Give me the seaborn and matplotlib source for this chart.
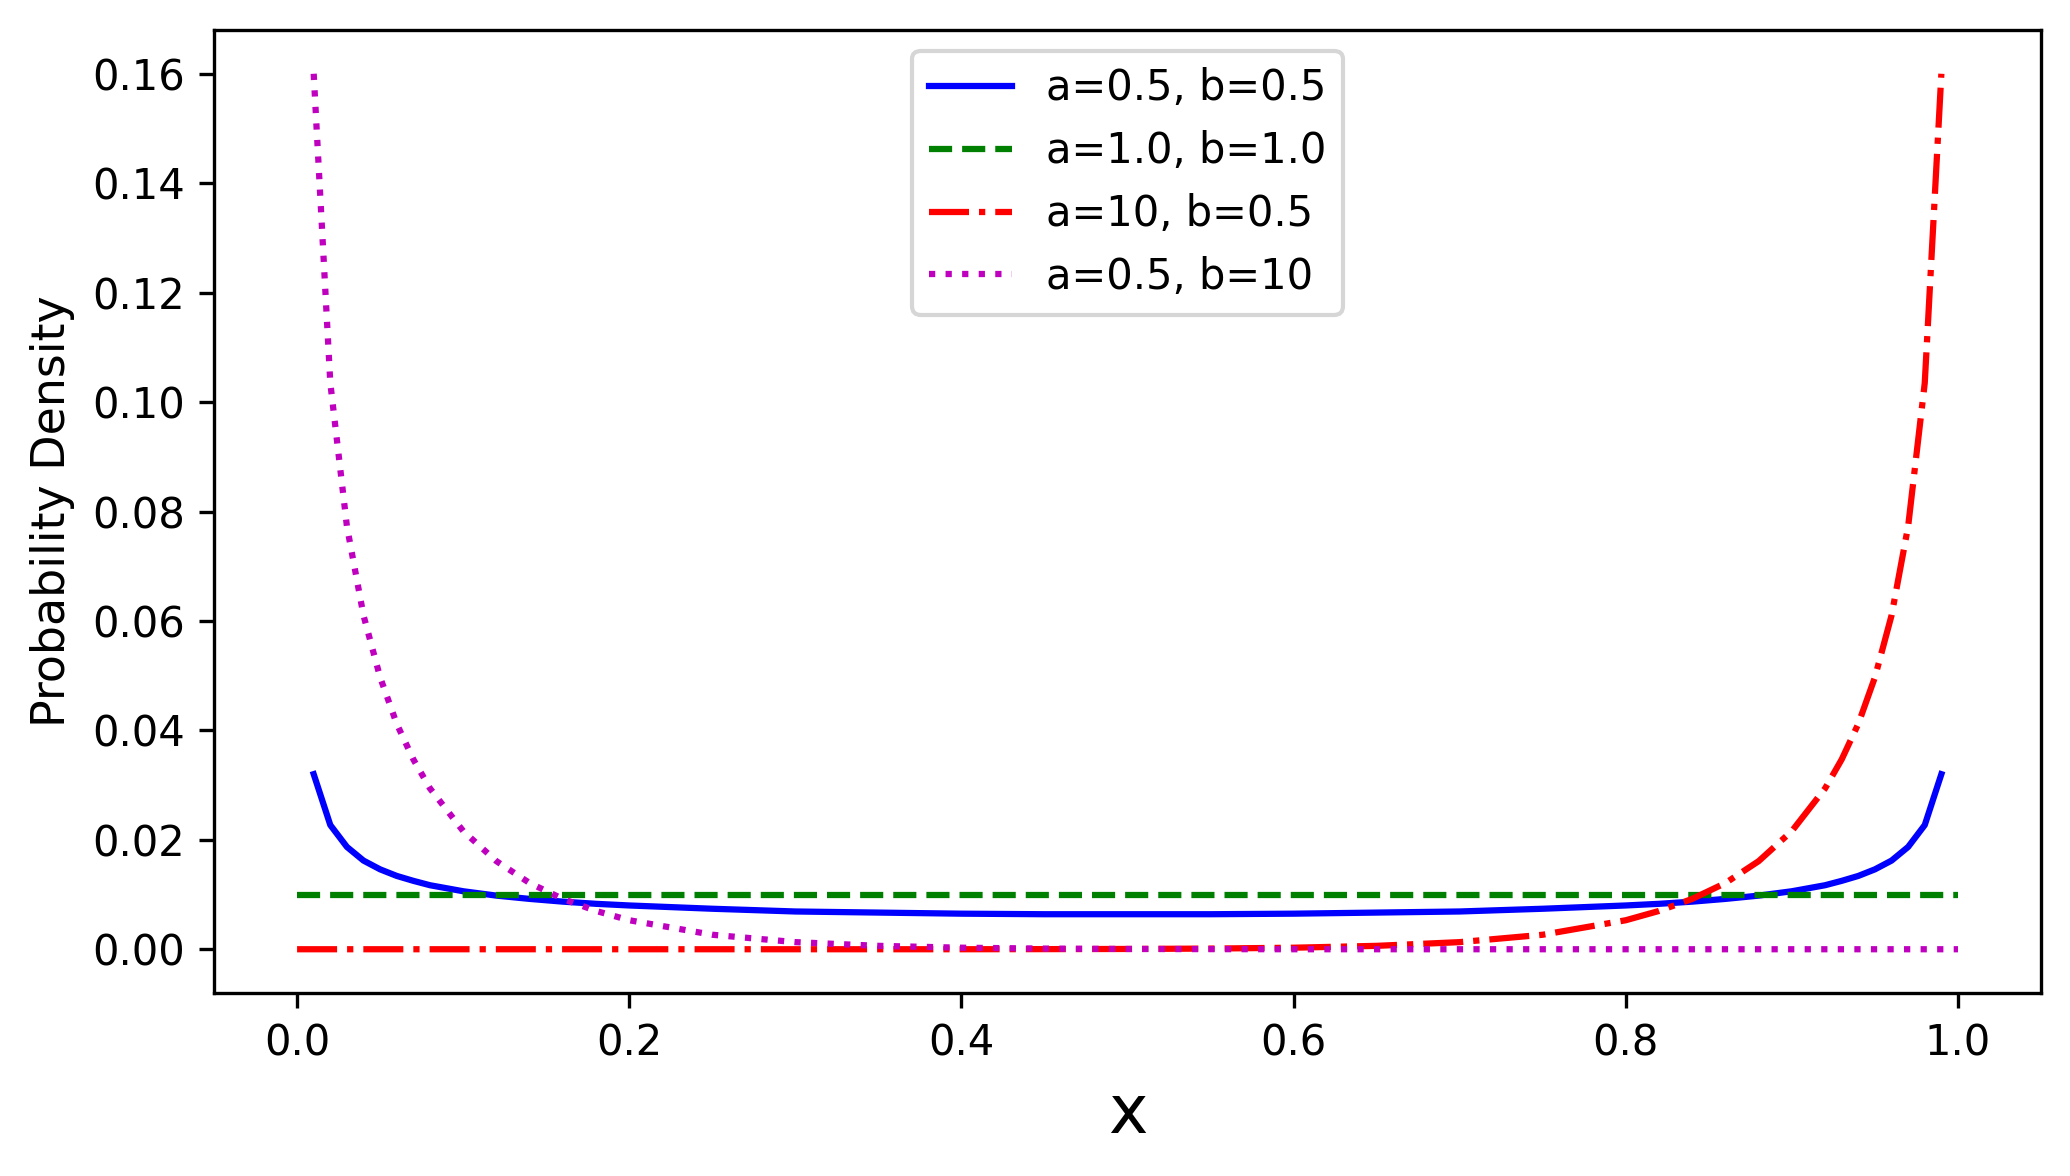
import pandas as pd
import seaborn as sns
import matplotlib
matplotlib.use('Agg')
import matplotlib.pyplot as plt

# x grid (denser near the edges where the curves bend)
x_vals = [0.00, 0.01, 0.02, 0.03, 0.04, 0.05, 0.06, 0.07, 0.08, 0.10,
          0.12, 0.14, 0.16, 0.18, 0.20, 0.25, 0.30, 0.35, 0.40, 0.45,
          0.50, 0.55, 0.60, 0.65, 0.70, 0.75, 0.80, 0.82, 0.84, 0.86,
          0.88, 0.90, 0.92, 0.93, 0.94, 0.95, 0.96, 0.97, 0.98, 0.99, 1.00]

nan = float('nan')

# a=0.5, b=0.5
dens_05_05 = [nan, 0.0320, 0.0227, 0.0187, 0.0162, 0.0146, 0.0134, 0.0125, 0.0117, 0.0106,
              0.0098, 0.0092, 0.0087, 0.0083, 0.0080, 0.0074, 0.0069, 0.0067, 0.0065, 0.0064,
              0.0064, 0.0064, 0.0065, 0.0067, 0.0069, 0.0074, 0.0080, 0.0083, 0.0087, 0.0092,
              0.0098, 0.0106, 0.0117, 0.0125, 0.0134, 0.0146, 0.0162, 0.0187, 0.0227, 0.0320, nan]

# a=1.0, b=1.0
dens_1_1 = [0.0100, 0.0100, 0.0100, 0.0100, 0.0100, 0.0100, 0.0100, 0.0100, 0.0100, 0.0100,
            0.0100, 0.0100, 0.0100, 0.0100, 0.0100, 0.0100, 0.0100, 0.0100, 0.0100, 0.0100,
            0.0100, 0.0100, 0.0100, 0.0100, 0.0100, 0.0100, 0.0100, 0.0100, 0.0100, 0.0100,
            0.0100, 0.0100, 0.0100, 0.0100, 0.0100, 0.0100, 0.0100, 0.0100, 0.0100, 0.0100, 0.0100]

# a=10, b=0.5
dens_10_05 = [0.0, 0.0, 0.0, 0.0, 0.0, 0.0, 0.0, 0.0, 0.0, 0.0,
              0.0, 0.0, 0.0, 0.0, 0.0, 0.0, 0.0, 0.0, 0.0, 0.00002,
              0.00005, 0.00012, 0.00028, 0.00062, 0.0013, 0.00265, 0.0053, 0.0070, 0.0092, 0.0121,
              0.0161, 0.0216, 0.0294, 0.0347, 0.0412, 0.0497, 0.0610, 0.0773, 0.1035, 0.1600, nan]

# a=0.5, b=10
dens_05_10 = [nan, 0.1600, 0.1035, 0.0773, 0.0610, 0.0497, 0.0412, 0.0347, 0.0294, 0.0216,
              0.0161, 0.0121, 0.0092, 0.0070, 0.0053, 0.00265, 0.0013, 0.00062, 0.00028, 0.00012,
              0.00005, 0.00002, 0.0, 0.0, 0.0, 0.0, 0.0, 0.0, 0.0, 0.0,
              0.0, 0.0, 0.0, 0.0, 0.0, 0.0, 0.0, 0.0, 0.0, 0.0, 0.0]

labels = ['a=0.5, b=0.5', 'a=1.0, b=1.0', 'a=10, b=0.5', 'a=0.5, b=10']
series = [dens_05_05, dens_1_1, dens_10_05, dens_05_10]
colors = ['b', 'g', 'r', 'm']
styles = ['-', '--', '-.', ':']

fig, ax = plt.subplots(figsize=(6.9, 3.92), dpi=300)

for lab, ys, col, ls in zip(labels, series, colors, styles):
    df = pd.DataFrame({'x': x_vals, 'density': ys}).dropna()
    sns.lineplot(data=df, x='x', y='density', ax=ax, color=col,
                 linestyle=ls, linewidth=1.5, label=lab)

ax.set_xlabel('x', fontsize=16)
ax.set_ylabel('Probability Density', fontsize=11)
ax.legend(loc='upper center', fontsize=10)

plt.subplots_adjust(left=0.1034, right=0.986, top=0.9745, bottom=0.1556)
plt.savefig('out.png', dpi=300)
